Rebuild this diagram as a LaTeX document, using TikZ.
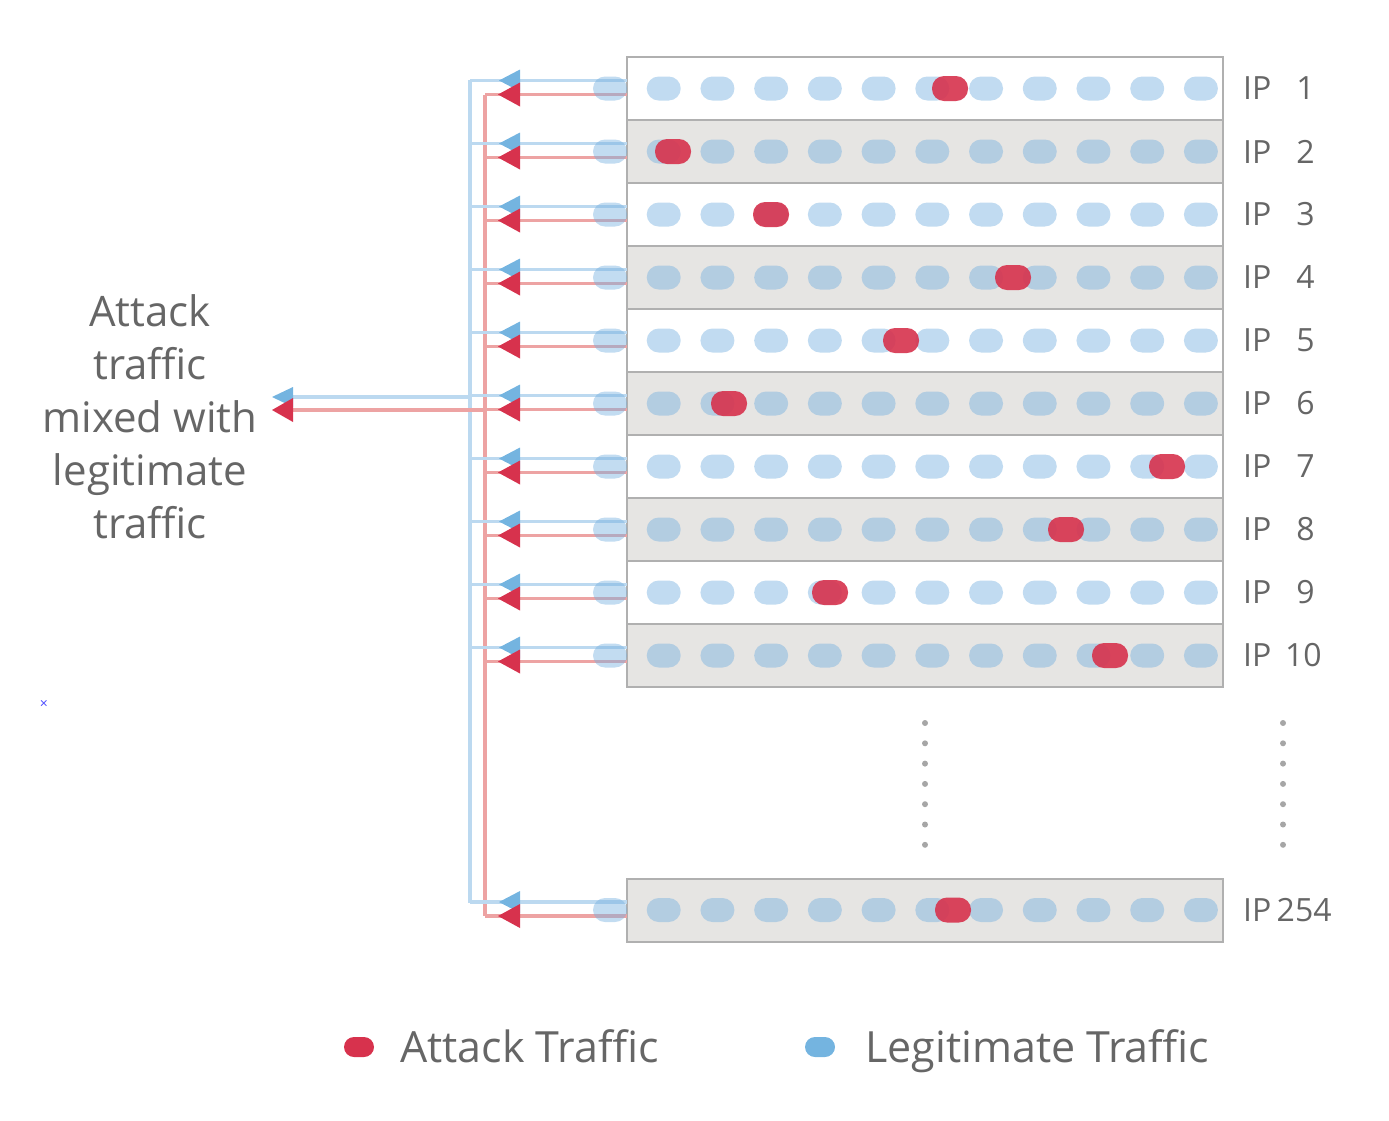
\documentclass[tikz,border=0pt]{standalone}
\usepackage{fontspec}
\setmainfont{Open Sans}
\definecolor{txt}{HTML}{666666}
\definecolor{lb}{HTML}{77B1E0}
\definecolor{ab}{HTML}{74B4E0}
\definecolor{ar}{HTML}{D7324D}
\definecolor{lnb}{HTML}{BCD9F0}
\definecolor{lnr}{HTML}{EDA3A3}
\definecolor{rowg}{HTML}{E6E5E3}
\definecolor{bord}{HTML}{B0B0B0}
\begin{document}
\begin{tikzpicture}[x=1pt,y=-1pt,
  pillb/.style={fill=lb,fill opacity=0.45,rounded corners=12pt},
  pillr/.style={fill=ar,fill opacity=0.9,rounded corners=12pt},
  rowbox/.style={draw=bord,line width=2pt},
  lb1/.style={draw=lnb,line width=3.5pt},
  lr1/.style={draw=lnr,line width=3.5pt},
  iplab/.style={text=txt,font=\fontsize{32}{36}\selectfont,anchor=west,inner sep=0}]
\useasboundingbox (0,0) rectangle (1389,1120);
% trunk lines
\coordinate (bt) at (470,80); \coordinate (bb) at (470,903);
\coordinate (rt) at (485,95); \coordinate (rb) at (485,916);
\draw[lb1] (bt) -- (bb);
\draw[lr1] (rt) -- (rb);
% output
\coordinate (ob) at (285,397); \coordinate (or) at (285,410);
\draw[lb1] (470,397) -- (ob);
\draw[lr1] (485,410) -- (or);
\fill[ab] (272,397) -- (293,387) -- (293,407) -- cycle;
\fill[ar] (272,410) -- (293,398) -- (293,422) -- cycle;
\foreach \y/\lab/\g/\rx in {88.5/1/0/950,151.5/2/1/673,214.5/3/0/771,277.5/4/1/1013,340.5/5/0/901,403.5/6/1/729,466.5/7/0/1167,529.5/8/1/1066,592.5/9/0/830,655.5/10/1/1110,910/254/1/953}{
  \ifnum\g=1
    \draw[rowbox,fill=rowg] (627,\y-31.5) rectangle (1223,\y+31.5);
  \else
    \draw[rowbox,fill=white] (627,\y-31.5) rectangle (1223,\y+31.5);
  \fi
  \draw[lb1] (470,\y-8) -- (627,\y-8);
  \draw[lr1] (485,\y+6) -- (627,\y+6);
  \fill[ab] (499,\y-8) -- (520,\y-19) -- (520,\y+3) -- cycle;
  \fill[ar] (498,\y+6) -- (520,\y-6) -- (520,\y+18) -- cycle;
  \foreach \k in {0,...,11}{
    \fill[pillb] (610+53.72*\k-17,\y-12) rectangle (610+53.72*\k+17,\y+12);
  }
  \fill[pillr] (\rx-18,\y-12.5) rectangle (\rx+18,\y+12.5);
  \ifnum\lab=254
    \node[iplab] (l\lab) at (1243,\y) {IP\,254};
  \else\ifnum\lab=10
    \node[iplab] (l\lab) at (1243,\y) {IP\ \,10};
  \else
    \node[iplab] (l\lab) at (1243,\y) {IP\ \ \ \lab};
  \fi\fi
}
% vertical ellipsis
\foreach \x in {925,1283}{
  \foreach \k in {0,...,6}{ \fill[gray!70] (\x,723+20.3*\k) circle (3); }
}
% left text
\node[text=txt,align=center,font=\fontsize{42}{53}\selectfont] (lt) at (150,417) {Attack\\traffic\\mixed with\\legitimate\\traffic};
\node[text=blue!70,font=\fontsize{14}{14}\selectfont] (xm) at (44,704) {×};
% legend
\fill[ar,rounded corners=10pt] (344,1037) rectangle (374,1057);
\fill[ab,rounded corners=10pt] (805,1037) rectangle (835,1057);
\node[text=txt,anchor=base west,inner sep=0,font=\fontsize{43}{50}\selectfont] (la) at (400,1062) {Attack Traffic};
\node[text=txt,anchor=base west,inner sep=0,font=\fontsize{43}{50}\selectfont] (lg) at (865,1062) {Legitimate Traffic};
\end{tikzpicture}
\end{document}
